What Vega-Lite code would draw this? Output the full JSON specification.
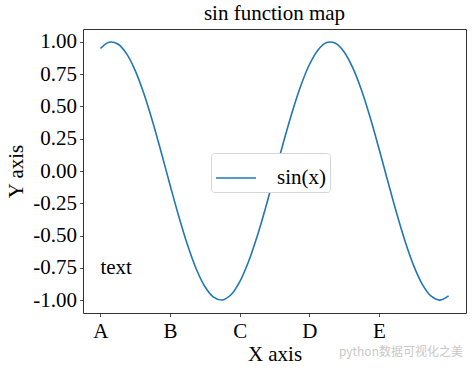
{
  "$schema": "https://vega.github.io/schema/vega-lite/v6.json",
  "width": 383,
  "height": 284,
  "autosize": "none",
  "padding": {"left": 83, "top": 29, "right": 8, "bottom": 59},
  "background": "white",
  "config": {
    "font": "Liberation Serif",
    "view": {"stroke": "#333", "strokeWidth": 1},
    "axis": {"grid": false, "domain": false, "tickColor": "#222", "tickSize": 3.5, "tickWidth": 0.8, "labelFont": "Liberation Serif", "labelFontSize": 21, "labelColor": "black", "titleFont": "Liberation Serif", "titleFontSize": 21, "titleFontWeight": "normal", "titleColor": "black"},
    "title": {"font": "Liberation Serif", "fontSize": 21, "fontWeight": "normal", "color": "black", "offset": 5}
  },
  "title": "sin function map",
  "layer": [
    {
      "data": {"values": [
        {"x": 0, "y": 0.94898, "s": "sin(x)"},
        {"x": 0.25, "y": 0.99749, "s": "sin(x)"},
        {"x": 0.5, "y": 0.98399, "s": "sin(x)"},
        {"x": 0.75, "y": 0.9093, "s": "sin(x)"},
        {"x": 1, "y": 0.77807, "s": "sin(x)"},
        {"x": 1.25, "y": 0.59847, "s": "sin(x)"},
        {"x": 1.5, "y": 0.38166, "s": "sin(x)"},
        {"x": 1.75, "y": 0.14112, "s": "sin(x)"},
        {"x": 2, "y": -0.1082, "s": "sin(x)"},
        {"x": 2.25, "y": -0.35078, "s": "sin(x)"},
        {"x": 2.5, "y": -0.57156, "s": "sin(x)"},
        {"x": 2.75, "y": -0.7568, "s": "sin(x)"},
        {"x": 3, "y": -0.89499, "s": "sin(x)"},
        {"x": 3.25, "y": -0.97753, "s": "sin(x)"},
        {"x": 3.5, "y": -0.99929, "s": "sin(x)"},
        {"x": 3.75, "y": -0.95892, "s": "sin(x)"},
        {"x": 4, "y": -0.85893, "s": "sin(x)"},
        {"x": 4.25, "y": -0.70554, "s": "sin(x)"},
        {"x": 4.5, "y": -0.50827, "s": "sin(x)"},
        {"x": 4.75, "y": -0.27942, "s": "sin(x)"},
        {"x": 5, "y": -0.03318, "s": "sin(x)"},
        {"x": 5.25, "y": 0.21512, "s": "sin(x)"},
        {"x": 5.5, "y": 0.45004, "s": "sin(x)"},
        {"x": 5.75, "y": 0.65699, "s": "sin(x)"},
        {"x": 6, "y": 0.82308, "s": "sin(x)"},
        {"x": 6.25, "y": 0.938, "s": "sin(x)"},
        {"x": 6.5, "y": 0.9946, "s": "sin(x)"},
        {"x": 6.75, "y": 0.98936, "s": "sin(x)"},
        {"x": 7, "y": 0.9226, "s": "sin(x)"},
        {"x": 7.25, "y": 0.79849, "s": "sin(x)"},
        {"x": 7.5, "y": 0.62472, "s": "sin(x)"},
        {"x": 7.75, "y": 0.41212, "s": "sin(x)"},
        {"x": 8, "y": 0.17389, "s": "sin(x)"},
        {"x": 8.25, "y": -0.07515, "s": "sin(x)"},
        {"x": 8.5, "y": -0.31952, "s": "sin(x)"},
        {"x": 8.75, "y": -0.54402, "s": "sin(x)"},
        {"x": 9, "y": -0.7346, "s": "sin(x)"},
        {"x": 9.25, "y": -0.87969, "s": "sin(x)"},
        {"x": 9.5, "y": -0.9702, "s": "sin(x)"},
        {"x": 9.75, "y": -0.99999, "s": "sin(x)"},
        {"x": 10, "y": -0.96781, "s": "sin(x)"}
      ]},
      "mark": {"type": "line", "interpolate": "catmull-rom", "strokeWidth": 1.6},
      "encoding": {
        "x": {"field": "x", "type": "quantitative", "scale": {"domain": [-0.5, 10.5], "nice": false, "zero": false},
              "axis": {"values": [0, 2, 4, 6, 8], "tickCount": 20, "labelExpr": "['A','B','C','D','E'][round(datum.value/2)]", "title": "X axis", "labelPadding": 4, "titlePadding": 2, "labelOverlap": false}},
        "y": {"field": "y", "type": "quantitative", "scale": {"domain": [-1.1, 1.1], "nice": false, "zero": false},
              "axis": {"values": [-1, -0.75, -0.5, -0.25, 0, 0.25, 0.5, 0.75, 1], "tickCount": 20, "labelExpr": "(datum.value < 0 ? '-' : '') + format(abs(datum.value), '.2f')", "title": "Y axis", "labelPadding": 3, "titlePadding": 6, "labelOverlap": false, "labelBound": false}},
        "color": {"field": "s", "type": "nominal", "scale": {"range": ["#1f77b4"]},
                  "legend": {"title": null, "orient": "none", "legendX": 128, "legendY": 124, "symbolType": "stroke", "symbolSize": 1600, "symbolStrokeWidth": 1.6, "labelFont": "Liberation Serif", "labelFontSize": 21, "labelColor": "black", "labelOffset": 20, "padding": 4, "strokeColor": "#d6d6d6", "fillColor": "white", "cornerRadius": 3}}
      }
    },
    {
      "data": {"values": [{"x": 0, "y": -0.8, "t": "text"}]},
      "mark": {"type": "text", "align": "left", "baseline": "alphabetic", "fontSize": 21, "font": "Liberation Serif", "color": "black"},
      "encoding": {
        "x": {"field": "x", "type": "quantitative"},
        "y": {"field": "y", "type": "quantitative"},
        "text": {"field": "t"}
      }
    },
    {
      "data": {"values": [{"x": 6.85, "y": -1.405, "t": "python数据可视化之美"}]},
      "mark": {"type": "text", "align": "left", "baseline": "middle", "fontSize": 12, "font": "Noto Sans CJK SC", "color": "#c8c8c8"},
      "encoding": {
        "x": {"field": "x", "type": "quantitative"},
        "y": {"field": "y", "type": "quantitative"},
        "text": {"field": "t"}
      }
    }
  ]
}
